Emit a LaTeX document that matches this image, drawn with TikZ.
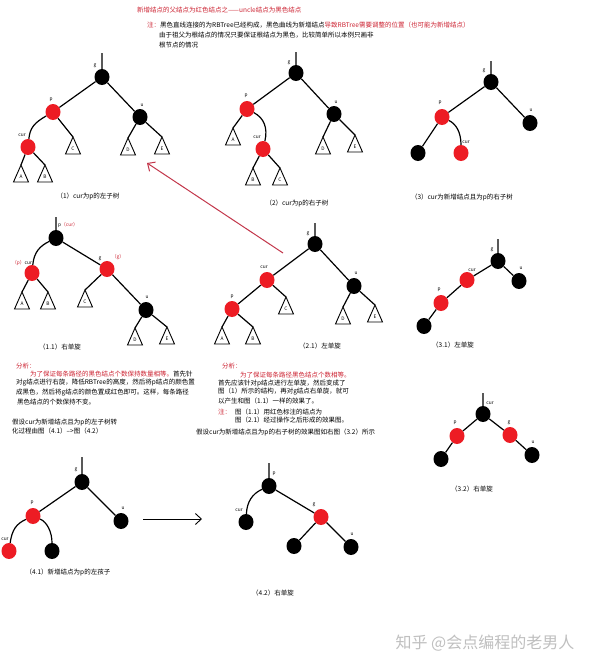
\documentclass[tikz,border=0pt]{standalone}
\usepackage{fontspec}
\setmainfont{Noto Sans CJK SC}
\usetikzlibrary{arrows.meta,shapes.geometric}
\definecolor{pr}{RGB}{237,28,36}
\definecolor{tr}{RGB}{205,35,50}
\definecolor{ar}{RGB}{195,55,75}
\newcommand\rbtri[4]{\coordinate (#1) at (#2,#3);
  \draw[trl] (#1) -- ++(-7.5,17) -- ++(15,0) -- cycle;
  \node[lab] (#1l) at ([yshift=-12pt]#1) {#4};}
\begin{document}
\begin{tikzpicture}[x=1pt,y=-1pt,
 bn/.style={ellipse,fill=black,inner sep=0,minimum width=15pt,minimum height=16pt},
 rn/.style={ellipse,fill=pr,inner sep=0,minimum width=15pt,minimum height=16pt},
 lnk/.style={line width=1.2pt},
 trl/.style={line width=0.9pt,line join=miter},
 lab/.style={font=\fontsize{4.8}{5}\selectfont,inner sep=0},
 txt/.style={font=\fontsize{6.5}{7}\selectfont,inner sep=0,anchor=west},
 captxt/.style={font=\fontsize{6.5}{7}\selectfont,inner sep=0},
 barb/.style={-{Straight Barb[length=6pt,width=11pt]}},
]
\useasboundingbox[fill=white] (0,0) rectangle (600,667);

% header
\node[txt,text=tr] (h1) at (137,10) {新增结点的父结点为红色结点之——uncle结点为黑色结点};
\node[txt] (h2) at (147,25) {\textcolor{tr}{注：}黑色直线连接的为RBTree已经构成，黑色曲线为新增结点\textcolor{tr}{导致RBTree需要调整的位置（也可能为新增结点）}};
\node[txt] (h3) at (159,35) {由于祖父为根结点的情况只要保证根结点为黑色，比较简单所以本例只画非};
\node[txt] (h4) at (159,45) {根节点的情况};

% tree 1
\node[bn] (g1) at (102,77) {};
\coordinate (g1t) at (102,53);
\node[rn] (p1) at (53,112) {};
\node[bn] (u1) at (140,117) {};
\node[rn] (c1) at (28,147) {};
\rbtri{C1}{73}{137}{C}
\rbtri{D1}{128}{138}{D}
\rbtri{E1}{162}{137}{E}
\rbtri{A1}{21}{165}{A}
\rbtri{B1}{45}{165}{B}
\draw[lnk] (g1)--(g1t) (g1)--(p1) (g1)--(u1) (p1)--(C1) (u1)--(D1) (u1)--(E1) (c1)--(A1) (c1)--(B1);
\draw[lnk] (p1) .. controls (34,123) and (30,128) .. (c1);
\node[lab] (g1l) at (95,66) {g};
\node[lab] (p1l) at (51,100) {p};
\node[lab] (u1l) at (142,105) {u};
\node[lab] (c1l) at (22,135) {cur};
\node[captxt] (cap1) at (88,196) {（1）cur为p的左子树};

% tree 2
\node[bn] (g2) at (296,73) {};
\coordinate (g2t) at (296,52);
\node[rn] (p2) at (247,109) {};
\node[bn] (u2) at (334,114) {};
\node[rn] (c2) at (263,149) {};
\rbtri{A2}{233}{128}{A}
\rbtri{D2}{323}{137}{D}
\rbtri{E2}{355}{135}{E}
\rbtri{B2}{253}{168}{B}
\rbtri{C2}{280}{168}{C}
\draw[lnk] (g2)--(g2t) (g2)--(p2) (g2)--(u2) (p2)--(A2) (u2)--(D2) (u2)--(E2) (c2)--(B2) (c2)--(C2);
\draw[lnk] (p2) .. controls (264,118) and (268,128) .. (c2);
\node[lab] (g2l) at (289,63) {g};
\node[lab] (p2l) at (246,96) {p};
\node[lab] (u2l) at (336,102) {u};
\node[lab] (c2l) at (257,137) {cur};
\node[captxt] (cap2) at (297,203) {（2）cur为p的右子树};

% tree 3
\node[bn] (g3) at (491,82) {};
\coordinate (g3t) at (491,61);
\node[rn] (p3) at (442,117) {};
\node[bn] (u3) at (530,123) {};
\node[bn] (l3) at (418,153) {};
\node[rn] (c3) at (461,153) {};
\draw[lnk] (g3)--(g3t) (g3)--(p3) (g3)--(u3) (p3)--(l3);
\draw[lnk] (p3) .. controls (456,124) and (461,132) .. (c3);
\node[lab] (g3l) at (484,71) {g};
\node[lab] (p3l) at (440,103) {p};
\node[lab] (u3l) at (531,110) {u};
\node[lab] (c3l) at (466,142) {cur};
\node[captxt] (cap3) at (462,197) {（3）cur为新增结点且为p的右子树};

% red arrow
\coordinate (ra1) at (283,253);
\coordinate (ra2) at (147,163);
\draw[ar,line width=1pt,barb] (ra1) -- (ra2);

% tree 1.1
\node[bn] (p11) at (56,238) {};
\coordinate (p11t) at (56,217);
\node[rn] (l11) at (32,273) {};
\node[rn] (g11) at (107,269) {};
\node[bn] (u11) at (146,310) {};
\rbtri{A11}{22}{292}{A}
\rbtri{B11}{48}{292}{B}
\rbtri{C11}{85}{290}{C}
\rbtri{D11}{135}{328}{D}
\rbtri{E11}{167}{327}{E}
\draw[lnk] (p11)--(p11t) (p11)--(g11) (l11)--(A11) (l11)--(B11) (g11)--(C11) (g11)--(u11) (u11)--(D11) (u11)--(E11);
\draw[lnk] (p11) .. controls (40,246) and (34,252) .. (l11);
\node[lab,anchor=west] (p11l) at (58,225) {p\textcolor{tr}{（cur）}};
\node[lab] (l11l) at (22,263) {\textcolor{tr}{（p）}cur};
\node[lab] (g11l) at (100,259) {g};
\node[lab,text=tr] (g11m) at (118,257) {（g）};
\node[lab] (u11l) at (147,297) {u};
\node[captxt] (cap11) at (60,347) {（1.1）右单旋};

% tree 2.1
\node[bn] (g21) at (315,244) {};
\coordinate (g21t) at (315,223);
\node[bn] (u21) at (354,286) {};
\node[rn] (c21) at (267,280) {};
\node[rn] (p21) at (232,309) {};
\rbtri{C21}{286}{297}{C}
\rbtri{D21}{343}{307}{D}
\rbtri{E21}{375}{305}{E}
\rbtri{A21}{222}{327}{A}
\rbtri{B21}{253}{327}{B}
\draw[lnk] (g21)--(g21t) (g21)--(c21) (g21)--(u21) (c21)--(p21) (c21)--(C21) (u21)--(D21) (u21)--(E21) (p21)--(A21) (p21)--(B21);
\node[lab] (g21l) at (308,234) {g};
\node[lab] (u21l) at (356,273) {u};
\node[lab] (c21l) at (264,267) {cur};
\node[lab] (p21l) at (232,297) {p};
\node[captxt] (cap21) at (320,346) {（2.1）左单旋};

% tree 3.1
\node[bn] (g31) at (498,261) {};
\coordinate (g31t) at (498,239);
\node[bn] (u31) at (519,281) {};
\node[rn] (c31) at (467,280) {};
\node[rn] (p31) at (441,303) {};
\node[bn] (l31) at (424,326) {};
\draw[lnk] (g31)--(g31t) (g31)--(u31) (g31)--(c31) (c31)--(p31) (p31)--(l31);
\node[lab] (g31l) at (492,250) {g};
\node[lab] (u31l) at (521,268) {u};
\node[lab] (c31l) at (472,270) {cur};
\node[lab] (p31l) at (439,290) {p};
\node[captxt] (cap31) at (453,345) {（3.1）左单旋};

% left analysis
\node[txt,text=tr] (a1) at (16,366) {分析：};
\node[txt] (a2) at (30,374) {\textcolor{tr}{为了保证每条路径的黑色结点个数保持数量相等。}首先针};
\node[txt] (a3) at (16,383) {对g结点进行右旋，降低RBTree的高度，然后将p结点的颜色置};
\node[txt] (a4) at (16,393) {成黑色，然后将g结点的颜色置成红色即可。这样，每条路径};
\node[txt] (a5) at (17,402) {黑色结点的个数保持不变。};
\node[txt] (a6) at (12,422) {假设cur为新增结点且为p的左子树转};
\node[txt] (a7) at (12,431) {化过程由图（4.1）-->图（4.2）};

% middle analysis
\node[txt,text=tr] (b1) at (222,366) {分析：};
\node[txt,text=tr] (b2) at (240,375) {为了保证每条路径黑色结点个数相等。};
\node[txt] (b3) at (218,383) {首先应该针对p结点进行左单旋，然后变成了};
\node[txt] (b4) at (218,392) {图（1）所示的结构，再对g结点右单旋，就可};
\node[txt] (b5) at (218,401) {以产生和图（1.1）一样的效果了。};
\node[txt,text=tr] (b6) at (218,412) {注：};
\node[txt] (b7) at (235,412) {图（1.1）用红色标注的结点为};
\node[txt] (b8) at (235,420) {图（2.1）经过操作之后形成的效果图。};
\node[txt] (b9) at (196,432) {假设cur为新增结点且为p的右子树的效果图如右图（3.2）所示};

% tree 3.2
\node[bn] (c32) at (483,414) {};
\coordinate (c32t) at (483,393);
\node[rn] (p32) at (457,436) {};
\node[rn] (g32) at (510,435) {};
\node[bn] (l32) at (441,459) {};
\node[bn] (u32) at (532,455) {};
\draw[lnk] (c32)--(c32t) (c32)--(p32) (c32)--(g32) (p32)--(l32) (g32)--(u32);
\node[lab] (c32l) at (490,403) {cur};
\node[lab] (p32l) at (455,423) {p};
\node[lab] (g32l) at (509,423) {g};
\node[lab] (u32l) at (533,442) {u};
\node[captxt] (cap32) at (472,489) {（3.2）右单旋};

% tree 4.1
\node[bn] (g41) at (82,482) {};
\coordinate (g41t) at (82,457);
\node[rn] (p41) at (33,516) {};
\node[bn] (u41) at (121,521) {};
\node[rn] (c41) at (9,551) {};
\node[bn] (b41) at (52,551) {};
\draw[lnk] (g41)--(g41t) (g41)--(p41) (g41)--(u41);
\draw[lnk] (p41) .. controls (16,524) and (12,530) .. (c41);
\draw[lnk] (p41) .. controls (47,522) and (52,532) .. (b41);
\node[lab] (g41l) at (76,470) {g};
\node[lab] (p41l) at (32,503) {p};
\node[lab] (u41l) at (123,508) {u};
\node[lab] (c41l) at (5,539) {cur};
\node[captxt] (cap41) at (68,572) {（4.1）新增结点为p的左孩子};

% arrow 4.1 -> 4.2
\coordinate (ba1) at (143,519);
\coordinate (ba2) at (202,519);
\draw[line width=0.9pt,barb] (ba1) -- (ba2);

% tree 4.2
\node[bn] (p42) at (269,486) {};
\coordinate (p42t) at (269,463);
\node[bn] (c42) at (246,522) {};
\node[rn] (g42) at (321,517) {};
\node[bn] (l42) at (294,546) {};
\node[bn] (u42) at (351,547) {};
\draw[lnk] (p42)--(p42t) (p42)--(g42) (g42)--(l42) (g42)--(u42);
\draw[lnk] (p42) .. controls (252,494) and (247,502) .. (c42);
\node[lab] (p42l) at (274,474) {p};
\node[lab] (c42l) at (239,510) {cur};
\node[lab] (g42l) at (314,505) {g};
\node[lab] (u42l) at (352,534) {u};
\node[captxt] (cap42) at (273,593) {（4.2）右单旋};

% watermark
\node[font=\fontsize{16}{18}\selectfont,text=black!25,inner sep=0] (wm) at (485,643) {知乎 @会点编程的老男人};
\end{tikzpicture}
\end{document}
